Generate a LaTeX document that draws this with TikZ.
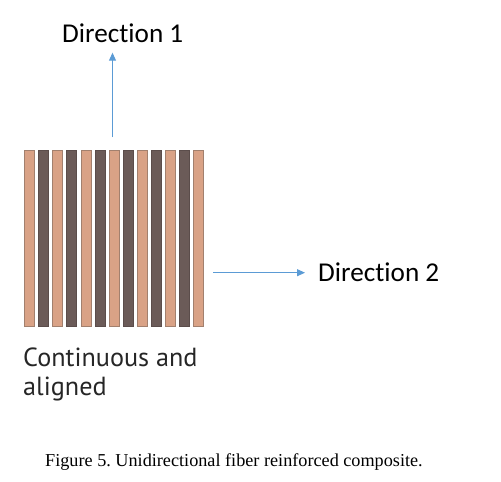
\documentclass[tikz,border=0pt]{standalone}
\usepackage{fontspec}
\setmainfont{Liberation Serif}
\newfontfamily\dirfont[Ligatures=NoCommon]{Carlito}
\newfontfamily\tagfont{PT Sans}
\usetikzlibrary{arrows.meta,positioning}
\definecolor{fibertan}{HTML}{D9A286}
\definecolor{fiberdark}{HTML}{6B5B58}
\definecolor{arrowblue}{HTML}{5B9BD5}
\frenchspacing
\tikzset{
  dirlabel/.style={font=\dirfont\fontsize{27.2}{30}\selectfont, inner sep=0pt, anchor=base west},
  taglabel/.style={font=\tagfont\fontsize{26.2}{28.5}\selectfont, text=black!85, inner sep=0pt, anchor=base west, align=left},
  caption/.style={font=\fontsize{18.2}{21}\selectfont, inner sep=0pt, anchor=base west},
  tanfiber/.style={draw=fibertan!70!black!90, fill=fibertan, line width=0.7pt},
  darkfiber/.style={draw=fiberdark!85!black, fill=fiberdark, line width=0.7pt},
  arrow/.style={-{Triangle[length=8pt,width=7pt]}, draw=arrowblue, fill=arrowblue, line width=1pt},
}
\begin{document}
\begin{tikzpicture}[x=1pt, y=-1pt]
\useasboundingbox (0,0) rectangle (501,482);

% fibres
\foreach \i in {0,...,12}{
  \pgfmathsetmacro{\xl}{24.5+14.1*\i}
  \ifodd\i
    \draw[darkfiber] (\xl,150.5) rectangle ++(10,176);
  \else
    \draw[tanfiber] (\xl,150.5) rectangle ++(10,176);
  \fi
}

\node[dirlabel] (dir1) at (62,42.3) {Direction 1};
\node[dirlabel] (dir2) at (318,281.7) {Direction 2};

\coordinate (d1start) at (112.5,137);
\coordinate (d2start) at (213,272.7);
\draw[arrow] (d1start) -- ([yshift=-10pt]d1start |- dir1.south);
\draw[arrow] (d2start) -- ([xshift=-13pt]dir2.west |- d2start);

\node[taglabel] (tag) at (23,395) {Continuous and\\aligned};

\node[caption] (cap) at (45,466.7) {Figure 5. Unidirectional fiber reinforced composite.};
\end{tikzpicture}
\end{document}
